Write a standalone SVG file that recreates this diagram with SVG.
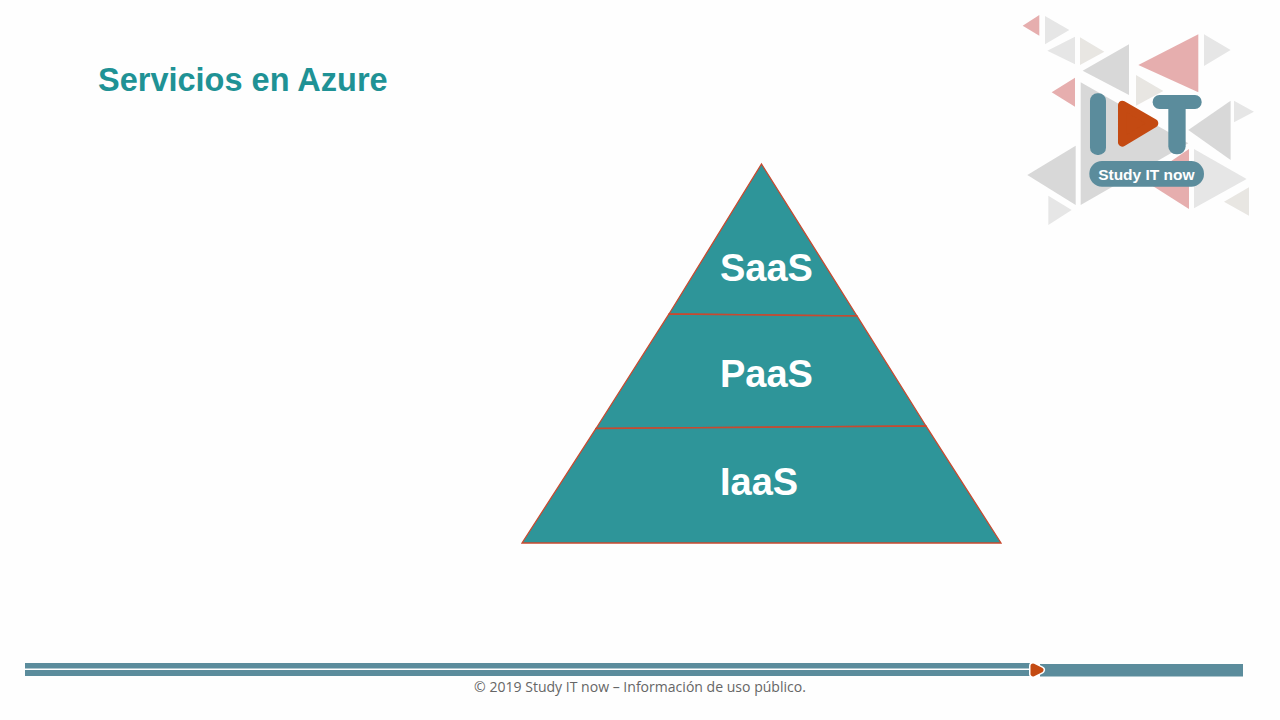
<svg xmlns="http://www.w3.org/2000/svg" width="1280" height="720" viewBox="0 0 1280 720">
<style>
.tier{fill:#2E9599;stroke:#C9492F;stroke-width:1.3;stroke-linejoin:miter}
.tl{font-family:"Liberation Sans",Arial,sans-serif;font-weight:700;font-size:38px;fill:#fff}
.p{fill:#E6AEAE}.g{fill:#D8D8D8}.l{fill:#E6E6E6}.b{fill:#E8E6E2}
.teal{fill:#5B8C9C}
</style>
<rect width="1280" height="720" fill="#FEFEFE"/>
<g id="title"><text x="98" y="91" font-family="'Liberation Sans',Arial,sans-serif" font-weight="700" font-size="32.500" fill="#1F9295">Servicios en Azure</text></g>
<g id="logo" transform="translate(1010 5) scale(.3333)">
<polygon class="p" points="88,30 88,92 38,62"/>
<polygon class="l" points="105,33 178,75 105,118"/>
<polygon class="l" points="195,95 195,178 112,137"/>
<polygon class="b" points="210,97 283,140 210,180"/>
<polygon class="g" points="357,118 357,270 218,197"/>
<polygon class="p" points="565,88 565,262 385,180"/>
<polygon class="l" points="582,88 662,135 582,183"/>
<polygon class="p" points="195,218 195,305 125,262"/>
<polygon class="g" points="212,232 535,415 212,600"/>
<polygon class="b" points="378,210 460,258 378,302"/>
<polygon class="g" points="662,287 662,465 535,375"/>
<polygon class="l" points="672,287 732,320 672,352"/>
<polygon class="g" points="197,422 197,600 52,510"/>
<polygon class="p" points="537,432 537,612 400,525"/>
<polygon class="l" points="552,432 710,522 552,610"/>
<polygon class="l" points="115,572 185,615 115,660"/>
<polygon class="b" points="717,547 717,632 642,590"/>
<rect class="teal" x="240" y="265" width="48" height="185" rx="22"/>
<rect class="teal" x="428" y="270" width="147" height="42" rx="20"/>
<rect class="teal" x="475" y="270" width="52" height="178" rx="24"/>
<polygon points="337,300 432,355 337,412" fill="#C44A12" stroke="#C44A12" stroke-width="26" stroke-linejoin="round"/>
<rect class="teal" x="238" y="468" width="344" height="77" rx="38"/>
<text x="409" y="524" text-anchor="middle" font-family="'Liberation Sans',Arial,sans-serif" font-weight="700" font-size="46.500" fill="#fff">Study IT now</text>
</g>
<g id="pyramid">
<g id="saas"><polygon class="tier" points="761.5,164 857,316 669,314"/><text class="tl" x="720" y="281">SaaS</text></g>
<g id="paas"><polygon class="tier" points="669,314 857,316 926,426 596,428.500"/><text class="tl" x="720" y="387">PaaS</text></g>
<g id="iaas"><polygon class="tier" points="596,428.500 926,426 1001,543 522,543"/><text class="tl" x="720" y="495">IaaS</text></g>
</g>
<g id="footer">
<rect class="teal" x="25" y="663" width="1005" height="5.500"/>
<rect class="teal" x="25" y="670" width="1005" height="6"/>
<rect class="teal" x="1040" y="664" width="203" height="12.500"/>
<polygon points="1033,666 1041,670 1033,674" fill="#C44A12" stroke="#fff" stroke-width="8" stroke-linejoin="round"/>
<polygon points="1033,666 1041,670 1033,674" fill="#C44A12" stroke="#C44A12" stroke-width="5" stroke-linejoin="round"/>
<text x="640" y="692" text-anchor="middle" font-family="'Open Sans','Liberation Sans',sans-serif" font-size="14.050" fill="#666">© 2019 Study IT now – Información de uso público.</text>
</g>
</svg>
